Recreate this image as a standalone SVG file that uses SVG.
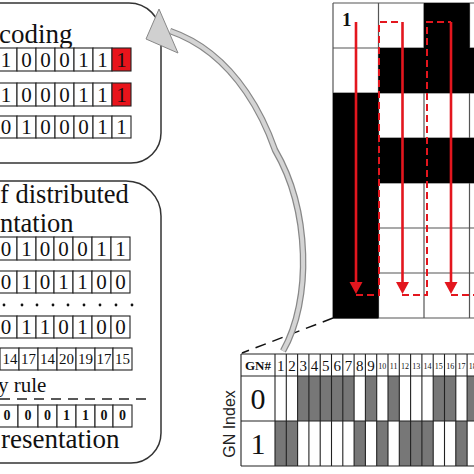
<svg xmlns="http://www.w3.org/2000/svg" width="474" height="474" viewBox="0 0 474 474">
<style>
.t{font-family:"Liberation Serif","Times New Roman",serif;fill:#111}
.big{font-size:27px}
.d{font-size:21px;text-anchor:middle}
.n{font-size:15px;text-anchor:middle}
.b{font-size:14px;font-weight:bold;text-anchor:middle}
.c{fill:#fff;stroke:#222;stroke-width:1.1}
.red{fill:#e8141b;stroke:#222;stroke-width:1.1}
.box{fill:none;stroke:#333;stroke-width:1.5}
.gl{stroke:#555;stroke-width:1.2}
.tl{stroke:#222;stroke-width:1.1}
.g{fill:#777}
.rs{stroke:#e3161e;stroke-width:2.6;fill:none}
.rd{stroke:#e3161e;stroke-width:2;fill:none;stroke-dasharray:7 4}
.rh{fill:#e3161e}
.h{font-size:15px;text-anchor:middle}
.hs{font-size:8px;text-anchor:middle}
</style>

<g id="box-encoding">
<path class="box" d="M-10,3 H129 A32 32 0 0 1 161,35 V133 A30 30 0 0 1 131,163 H-10"/>
<text class="t big" x="-1" y="43">coding</text>
<g id="enc-row1">
<rect class="c" x="-5" y="48" width="22" height="23"/><rect class="c" x="17" y="48" width="19" height="23"/><rect class="c" x="36" y="48" width="19" height="23"/><rect class="c" x="55" y="48" width="19" height="23"/><rect class="c" x="74" y="48" width="19" height="23"/><rect class="c" x="93" y="48" width="19" height="23"/><rect class="red" x="112" y="48" width="19" height="23"/>
<text class="t d" x="6" y="66.5">1</text><text class="t d" x="26.5" y="66.5">0</text><text class="t d" x="45.5" y="66.5">0</text><text class="t d" x="64.5" y="66.5">0</text><text class="t d" x="83.5" y="66.5">1</text><text class="t d" x="102.5" y="66.5">1</text><text class="t d" x="121.5" y="66.5">1</text>
</g>
<g id="enc-row2">
<rect class="c" x="-5" y="83" width="22" height="23"/><rect class="c" x="17" y="83" width="19" height="23"/><rect class="c" x="36" y="83" width="19" height="23"/><rect class="c" x="55" y="83" width="19" height="23"/><rect class="c" x="74" y="83" width="19" height="23"/><rect class="c" x="93" y="83" width="19" height="23"/><rect class="red" x="112" y="83" width="19" height="23"/>
<text class="t d" x="6" y="101.5">1</text><text class="t d" x="26.5" y="101.5">0</text><text class="t d" x="45.5" y="101.5">0</text><text class="t d" x="64.5" y="101.5">0</text><text class="t d" x="83.5" y="101.5">1</text><text class="t d" x="102.5" y="101.5">1</text><text class="t d" x="121.5" y="101.5">1</text>
</g>
<g id="enc-row3">
<rect class="c" x="-5" y="116" width="22" height="22"/><rect class="c" x="17" y="116" width="19" height="22"/><rect class="c" x="36" y="116" width="19" height="22"/><rect class="c" x="55" y="116" width="19" height="22"/><rect class="c" x="74" y="116" width="19" height="22"/><rect class="c" x="93" y="116" width="19" height="22"/><rect class="c" x="112" y="116" width="19" height="22"/>
<text class="t d" x="6" y="134">0</text><text class="t d" x="26.5" y="134">1</text><text class="t d" x="45.5" y="134">0</text><text class="t d" x="64.5" y="134">0</text><text class="t d" x="83.5" y="134">0</text><text class="t d" x="102.5" y="134">1</text><text class="t d" x="121.5" y="134">1</text>
</g>
</g>

<g id="box-distributed">
<path class="box" d="M-10,181 H126 A35 35 0 0 1 161,216 V433 A30 30 0 0 1 131,463 H-10"/>
<text class="t" x="0" y="203" font-size="26.5">f distributed</text>
<text class="t" x="0" y="232" font-size="26.5">ntation</text>
<g id="dist-rowA">
<rect class="c" x="-5" y="237" width="22" height="23"/><rect class="c" x="17" y="237" width="19" height="23"/><rect class="c" x="36" y="237" width="18" height="23"/><rect class="c" x="54" y="237" width="19" height="23"/><rect class="c" x="73" y="237" width="19" height="23"/><rect class="c" x="92" y="237" width="19" height="23"/><rect class="c" x="111" y="237" width="19" height="23"/>
<text class="t d" x="6" y="255.5">0</text><text class="t d" x="26.5" y="255.5">1</text><text class="t d" x="45" y="255.5">0</text><text class="t d" x="63.5" y="255.5">0</text><text class="t d" x="82.5" y="255.5">0</text><text class="t d" x="101.5" y="255.5">1</text><text class="t d" x="120.5" y="255.5">1</text>
</g>
<g id="dist-rowB">
<rect class="c" x="-5" y="271" width="22" height="22"/><rect class="c" x="17" y="271" width="19" height="22"/><rect class="c" x="36" y="271" width="18" height="22"/><rect class="c" x="54" y="271" width="19" height="22"/><rect class="c" x="73" y="271" width="19" height="22"/><rect class="c" x="92" y="271" width="19" height="22"/><rect class="c" x="111" y="271" width="19" height="22"/>
<text class="t d" x="6" y="289">0</text><text class="t d" x="26.5" y="289">1</text><text class="t d" x="45" y="289">0</text><text class="t d" x="63.5" y="289">1</text><text class="t d" x="82.5" y="289">1</text><text class="t d" x="101.5" y="289">0</text><text class="t d" x="120.5" y="289">0</text>
</g>
<g id="dots" fill="#111">
<circle cx="4" cy="305" r="1.4"/><circle cx="22" cy="305" r="1.4"/><circle cx="37" cy="305" r="1.4"/><circle cx="53" cy="305" r="1.4"/><circle cx="68" cy="305" r="1.4"/><circle cx="84" cy="305" r="1.4"/><circle cx="100" cy="305" r="1.4"/><circle cx="116" cy="305" r="1.4"/><circle cx="132" cy="305" r="1.4"/>
</g>
<g id="dist-rowC">
<rect class="c" x="-5" y="316" width="22" height="22"/><rect class="c" x="17" y="316" width="19" height="22"/><rect class="c" x="36" y="316" width="18" height="22"/><rect class="c" x="54" y="316" width="19" height="22"/><rect class="c" x="73" y="316" width="19" height="22"/><rect class="c" x="92" y="316" width="19" height="22"/><rect class="c" x="111" y="316" width="19" height="22"/>
<text class="t d" x="6" y="334">0</text><text class="t d" x="26.5" y="334">1</text><text class="t d" x="45" y="334">1</text><text class="t d" x="63.5" y="334">0</text><text class="t d" x="82.5" y="334">1</text><text class="t d" x="101.5" y="334">0</text><text class="t d" x="120.5" y="334">0</text>
</g>
<g id="dist-rowD">
<rect x="-5" y="348" width="5" height="22" fill="#d0d0d0"/>
<rect class="c" x="0" y="348" width="19" height="22"/><rect class="c" x="19" y="348" width="19" height="22"/><rect class="c" x="38" y="348" width="19" height="22"/><rect class="c" x="57" y="348" width="19" height="22"/><rect class="c" x="76" y="348" width="19" height="22"/><rect class="c" x="95" y="348" width="18" height="22"/><rect class="c" x="113" y="348" width="19" height="22"/>
<text class="t n" x="10" y="364">14</text><text class="t n" x="28.5" y="364">17</text><text class="t n" x="47.5" y="364">14</text><text class="t n" x="66.5" y="364">20</text><text class="t n" x="85.5" y="364">19</text><text class="t n" x="104" y="364">17</text><text class="t n" x="122.5" y="364">15</text>
</g>
<text class="t" x="-2" y="392" font-size="21">y rule</text>
<line x1="0" y1="399" x2="152" y2="399" stroke="#222" stroke-width="1.5" stroke-dasharray="10 7"/>
<g id="dist-rowE">
<rect class="c" x="-4" y="405" width="22" height="22"/><rect class="c" x="18" y="405" width="20" height="22"/><rect class="c" x="38" y="405" width="19" height="22"/><rect class="c" x="57" y="405" width="19" height="22"/><rect class="c" x="76" y="405" width="19" height="22"/><rect class="c" x="95" y="405" width="18" height="22"/><rect class="c" x="113" y="405" width="19" height="22"/>
<text class="t b" x="7" y="420">0</text><text class="t b" x="28" y="420">0</text><text class="t b" x="47.5" y="420">0</text><text class="t b" x="66.5" y="420">1</text><text class="t b" x="85.5" y="420">1</text><text class="t b" x="104" y="420">0</text><text class="t b" x="122.5" y="420">0</text>
</g>
<text class="t" x="1" y="448" font-size="27">resentation</text>
</g>

<g id="image-grid">
<rect x="333" y="3" width="150" height="315" fill="#fff"/>
<g class="gl">
<line x1="333" y1="3" x2="474" y2="3"/><line x1="333" y1="48" x2="474" y2="48"/><line x1="333" y1="93" x2="474" y2="93"/><line x1="333" y1="138" x2="474" y2="138"/><line x1="333" y1="183" x2="474" y2="183"/><line x1="333" y1="228" x2="474" y2="228"/><line x1="333" y1="273" x2="474" y2="273"/><line x1="333" y1="318" x2="474" y2="318"/>
<line x1="333" y1="3" x2="333" y2="318"/><line x1="378.5" y1="3" x2="378.5" y2="318"/><line x1="424" y1="3" x2="424" y2="318"/><line x1="469.5" y1="3" x2="469.5" y2="318"/>
</g>
<g fill="#000">
<rect x="333" y="93" width="45.5" height="225.5"/>
<rect x="378.5" y="48" width="96" height="45"/>
<rect x="424" y="3" width="45.5" height="45"/>
<rect x="378.5" y="138" width="96" height="45"/>
</g>
<text class="t" x="342" y="26" font-size="19" font-weight="bold">1</text>
</g>

<g id="scan-path">
<path class="rd" d="M356,295 H379 V22 H402"/>
<path class="rd" d="M402,295 H427 V22 H451"/>
<path class="rd" d="M451,295 H476"/>
<line class="rs" x1="356" y1="22" x2="356" y2="283"/>
<line class="rs" x1="402.5" y1="22" x2="402.5" y2="283"/>
<line class="rs" x1="451" y1="22" x2="451" y2="283"/>
<polygon class="rh" points="349.5,282 362.5,282 356,294"/>
<polygon class="rh" points="396,282 409,282 402.5,294"/>
<polygon class="rh" points="444.5,282 457.5,282 451,294"/>
</g>

<g id="gn-table">
<g class="g">
<rect x="297.6" y="376" width="56.5" height="45"/>
<rect x="365.4" y="376" width="11.3" height="45"/>
<rect x="388" y="376" width="11.3" height="45"/>
<rect x="433.2" y="376" width="22.6" height="45"/>
<rect x="467.1" y="376" width="11.3" height="45"/>
<rect x="275" y="421" width="22.6" height="45"/>
<rect x="354.1" y="421" width="11.3" height="45"/>
<rect x="376.7" y="421" width="11.3" height="45"/>
<rect x="399.3" y="421" width="33.9" height="45"/>
<rect x="455.8" y="421" width="11.3" height="45"/>
</g>
<g class="tl">
<line x1="241" y1="354" x2="476" y2="354"/><line x1="241" y1="376" x2="476" y2="376"/><line x1="241" y1="421" x2="476" y2="421"/><line x1="241" y1="466" x2="476" y2="466"/>
<line x1="241" y1="354" x2="241" y2="466"/><line x1="275" y1="354" x2="275" y2="466"/>
<line x1="286.3" y1="354" x2="286.3" y2="466"/><line x1="297.6" y1="354" x2="297.6" y2="466"/><line x1="308.9" y1="354" x2="308.9" y2="466"/><line x1="320.2" y1="354" x2="320.2" y2="466"/><line x1="331.5" y1="354" x2="331.5" y2="466"/><line x1="342.8" y1="354" x2="342.8" y2="466"/><line x1="354.1" y1="354" x2="354.1" y2="466"/><line x1="365.4" y1="354" x2="365.4" y2="466"/><line x1="376.7" y1="354" x2="376.7" y2="466"/><line x1="388" y1="354" x2="388" y2="466"/><line x1="399.3" y1="354" x2="399.3" y2="466"/><line x1="410.6" y1="354" x2="410.6" y2="466"/><line x1="421.9" y1="354" x2="421.9" y2="466"/><line x1="433.2" y1="354" x2="433.2" y2="466"/><line x1="444.5" y1="354" x2="444.5" y2="466"/><line x1="455.8" y1="354" x2="455.8" y2="466"/><line x1="467.1" y1="354" x2="467.1" y2="466"/>
</g>
<text class="t" x="258" y="370" font-size="13" font-weight="bold" text-anchor="middle">GN#</text>
<g class="t">
<text class="h" x="280.65" y="371">1</text><text class="h" x="291.95" y="371">2</text><text class="h" x="303.25" y="371">3</text><text class="h" x="314.55" y="371">4</text><text class="h" x="325.85" y="371">5</text><text class="h" x="337.15" y="371">6</text><text class="h" x="348.45" y="371">7</text><text class="h" x="359.75" y="371">8</text><text class="h" x="371.05" y="371">9</text>
<text class="hs" x="382.35" y="369">10</text><text class="hs" x="393.65" y="369">11</text><text class="hs" x="404.95" y="369">12</text><text class="hs" x="416.25" y="369">13</text><text class="hs" x="427.55" y="369">14</text><text class="hs" x="438.85" y="369">15</text><text class="hs" x="450.15" y="369">16</text><text class="hs" x="461.45" y="369">17</text><text class="hs" x="472.75" y="369">18</text>
</g>
<text class="t" x="258" y="409" font-size="30" text-anchor="middle">0</text>
<text class="t" x="258" y="454" font-size="30" text-anchor="middle">1</text>
<text x="235" y="424" transform="rotate(-90 235 424)" font-family="Liberation Sans, Arial, sans-serif" font-size="16" text-anchor="middle" fill="#222">GN Index</text>
</g>

<g id="connectors">
<line x1="333" y1="318" x2="242" y2="353" stroke="#111" stroke-width="1.5" stroke-dasharray="11 7"/>
<path d="M283,351 C312,300 310,210 275,150 C268,130 240,55 170,31" fill="none" stroke="#888" stroke-width="6.5"/>
<path d="M283,351 C312,300 310,210 275,150 C268,130 240,55 170,31" fill="none" stroke="#d4d4d4" stroke-width="4"/>
<polygon points="159,9 146,39 178,53" fill="#d0d0d0" stroke="#888" stroke-width="1"/>
</g>
</svg>
